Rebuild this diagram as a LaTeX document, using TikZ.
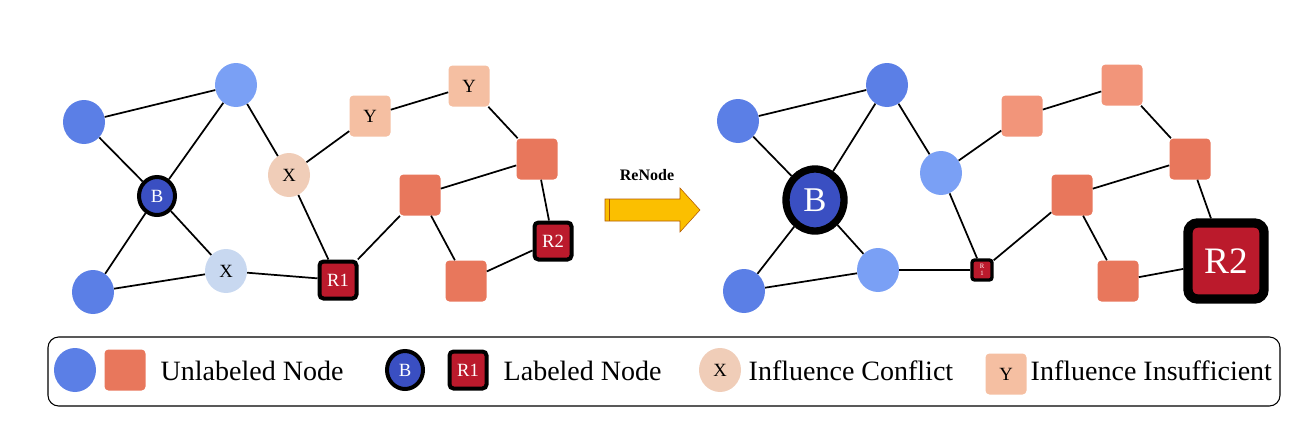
\documentclass[tikz,border=0pt]{standalone}
\usepackage{fontspec}
\setmainfont{Liberation Serif}
\usetikzlibrary{shapes.geometric}
\definecolor{ublue}{HTML}{5B7FE6}
\definecolor{lblue}{HTML}{7AA0F5}
\definecolor{pblue}{HTML}{C8D8F0}
\definecolor{bblue}{HTML}{3A4FC2}
\definecolor{rred}{HTML}{BB1A2C}
\definecolor{salm}{HTML}{E8775C}
\definecolor{lsalm}{HTML}{F2957A}
\definecolor{peach}{HTML}{F5BFA2}
\definecolor{cpeach}{HTML}{F0CDB8}
\definecolor{ayel}{HTML}{FBBF00}
\begin{document}
\begin{tikzpicture}[x=0.75pt,y=-0.75pt,
  circ/.style={ellipse,draw=none,minimum width=42pt*0.75,minimum height=44pt*0.75,inner sep=0pt,font=\fontsize{14}{14}\selectfont},
  sq/.style={rectangle,rounded corners=3pt,draw=none,minimum size=41pt*0.75,inner sep=0pt,font=\fontsize{14}{14}\selectfont},
  lab/.style={draw=black,line width=3pt},
  lt/.style={anchor=west,font=\fontsize{21}{21}\selectfont},
  edge/.style={line width=1.3pt}]
\useasboundingbox (0,0) rectangle (1310,422);
% left graph
\node[circ,fill=ublue] (a1) at (84,122) {};
\node[circ,fill=lblue] (a2) at (236,85) {};
\node[circ,fill=bblue,lab,text=white,minimum width=36pt*0.75,minimum height=38pt*0.75] (aB) at (157,196) {B};
\node[circ,fill=ublue] (a3) at (93,292) {};
\node[circ,fill=pblue] (ax1) at (226,271) {X};
\node[circ,fill=cpeach] (ax2) at (289,175) {X};
\node[sq,fill=peach] (ay1) at (370,116) {Y};
\node[sq,fill=peach] (ay2) at (469,86) {Y};
\node[sq,fill=rred,lab,text=white,minimum size=37pt*0.75] (aR1) at (338,280) {R1};
\node[sq,fill=salm] (as1) at (420,195) {};
\node[sq,fill=salm] (as2) at (537,159) {};
\node[sq,fill=salm] (as3) at (466,281) {};
\node[sq,fill=rred,lab,text=white,minimum size=37pt*0.75] (aR2) at (553,241) {R2};
\foreach \p/\q in {a1/a2,a1/aB,a2/aB,a2/ax2,aB/a3,aB/ax1,a3/ax1,ax1/aR1,ax2/aR1,ax2/ay1,ay1/ay2,ay2/as2,as2/aR2,as2/as1,as1/aR1,as1/as3,as3/aR2}
  \draw[edge] (\p) -- (\q);
% arrow
\node[font=\bfseries\large] (rn) at (647,175) {ReNode};
\fill[ayel,draw=orange!70!black,line width=0.4pt] (605,199) -- (680,199) -- (680,188) -- (700,210) -- (680,232) -- (680,221) -- (605,221) -- cycle;
\draw[orange!70!black,line width=0.4pt] (609,199) -- (609,221);
% right graph
\node[circ,fill=ublue] (b1) at (738,121) {};
\node[circ,fill=ublue] (b2) at (887,85) {};
\node[circ,fill=bblue,draw=black,line width=5.5pt,text=white,minimum width=58pt*0.75,minimum height=62pt*0.75,font=\fontsize{26}{26}\selectfont] (bB) at (815,200) {B};
\node[circ,fill=ublue] (b3) at (744,291) {};
\node[circ,fill=lblue] (b4) at (878,270) {};
\node[circ,fill=lblue] (b5) at (941,173) {};
\node[sq,fill=lsalm] (o1) at (1022,116) {};
\node[sq,fill=lsalm] (o2) at (1122,85) {};
\node[sq,fill=salm] (o3) at (1190,159) {};
\node[sq,fill=salm] (o4) at (1072,195) {};
\node[sq,fill=salm] (o5) at (1118,281) {};
\node[sq,fill=rred,lab,line width=2.5pt,text=white,minimum size=20pt*0.75,rounded corners=2pt,font=\fontsize{5}{5}\selectfont,align=center] (bR1) at (982,270) {R\\1};
\node[sq,fill=rred,draw=black,line width=7pt,rounded corners=7pt,text=white,minimum size=76pt*0.75,font=\fontsize{28}{28}\selectfont] (bR2) at (1226,261) {R2};
\foreach \p/\q in {b1/b2,b1/bB,b2/bB,b2/b5,bB/b3,bB/b4,b3/b4,b4/bR1,b5/bR1,b5/o1,o1/o2,o2/o3,o3/bR2,o3/o4,o4/bR1,o4/o5,o5/bR2}
  \draw[edge] (\p) -- (\q);
% legend
\draw[line width=0.8pt,rounded corners=8pt] (48,337) rectangle (1280,406);
\node[circ,fill=ublue] (l1) at (75,370) {};
\node[sq,fill=salm] (l2) at (125,370) {};
\node[lt] (t1) at (156,371) {Unlabeled Node};
\node[circ,fill=bblue,lab,text=white,minimum width=36pt*0.75,minimum height=38pt*0.75] (l3) at (405,370) {B};
\node[sq,fill=rred,lab,text=white,minimum size=37pt*0.75] (l4) at (468,370) {R1};
\node[lt] (t2) at (499,371) {Labeled Node};
\node[circ,fill=cpeach] (l5) at (720,370) {X};
\node[lt] (t3) at (744,371) {Influence Conflict};
\node[sq,fill=peach] (l6) at (1006,374) {Y};
\node[lt] (t4) at (1026,371) {Influence Insufficient};
\end{tikzpicture}
\end{document}
